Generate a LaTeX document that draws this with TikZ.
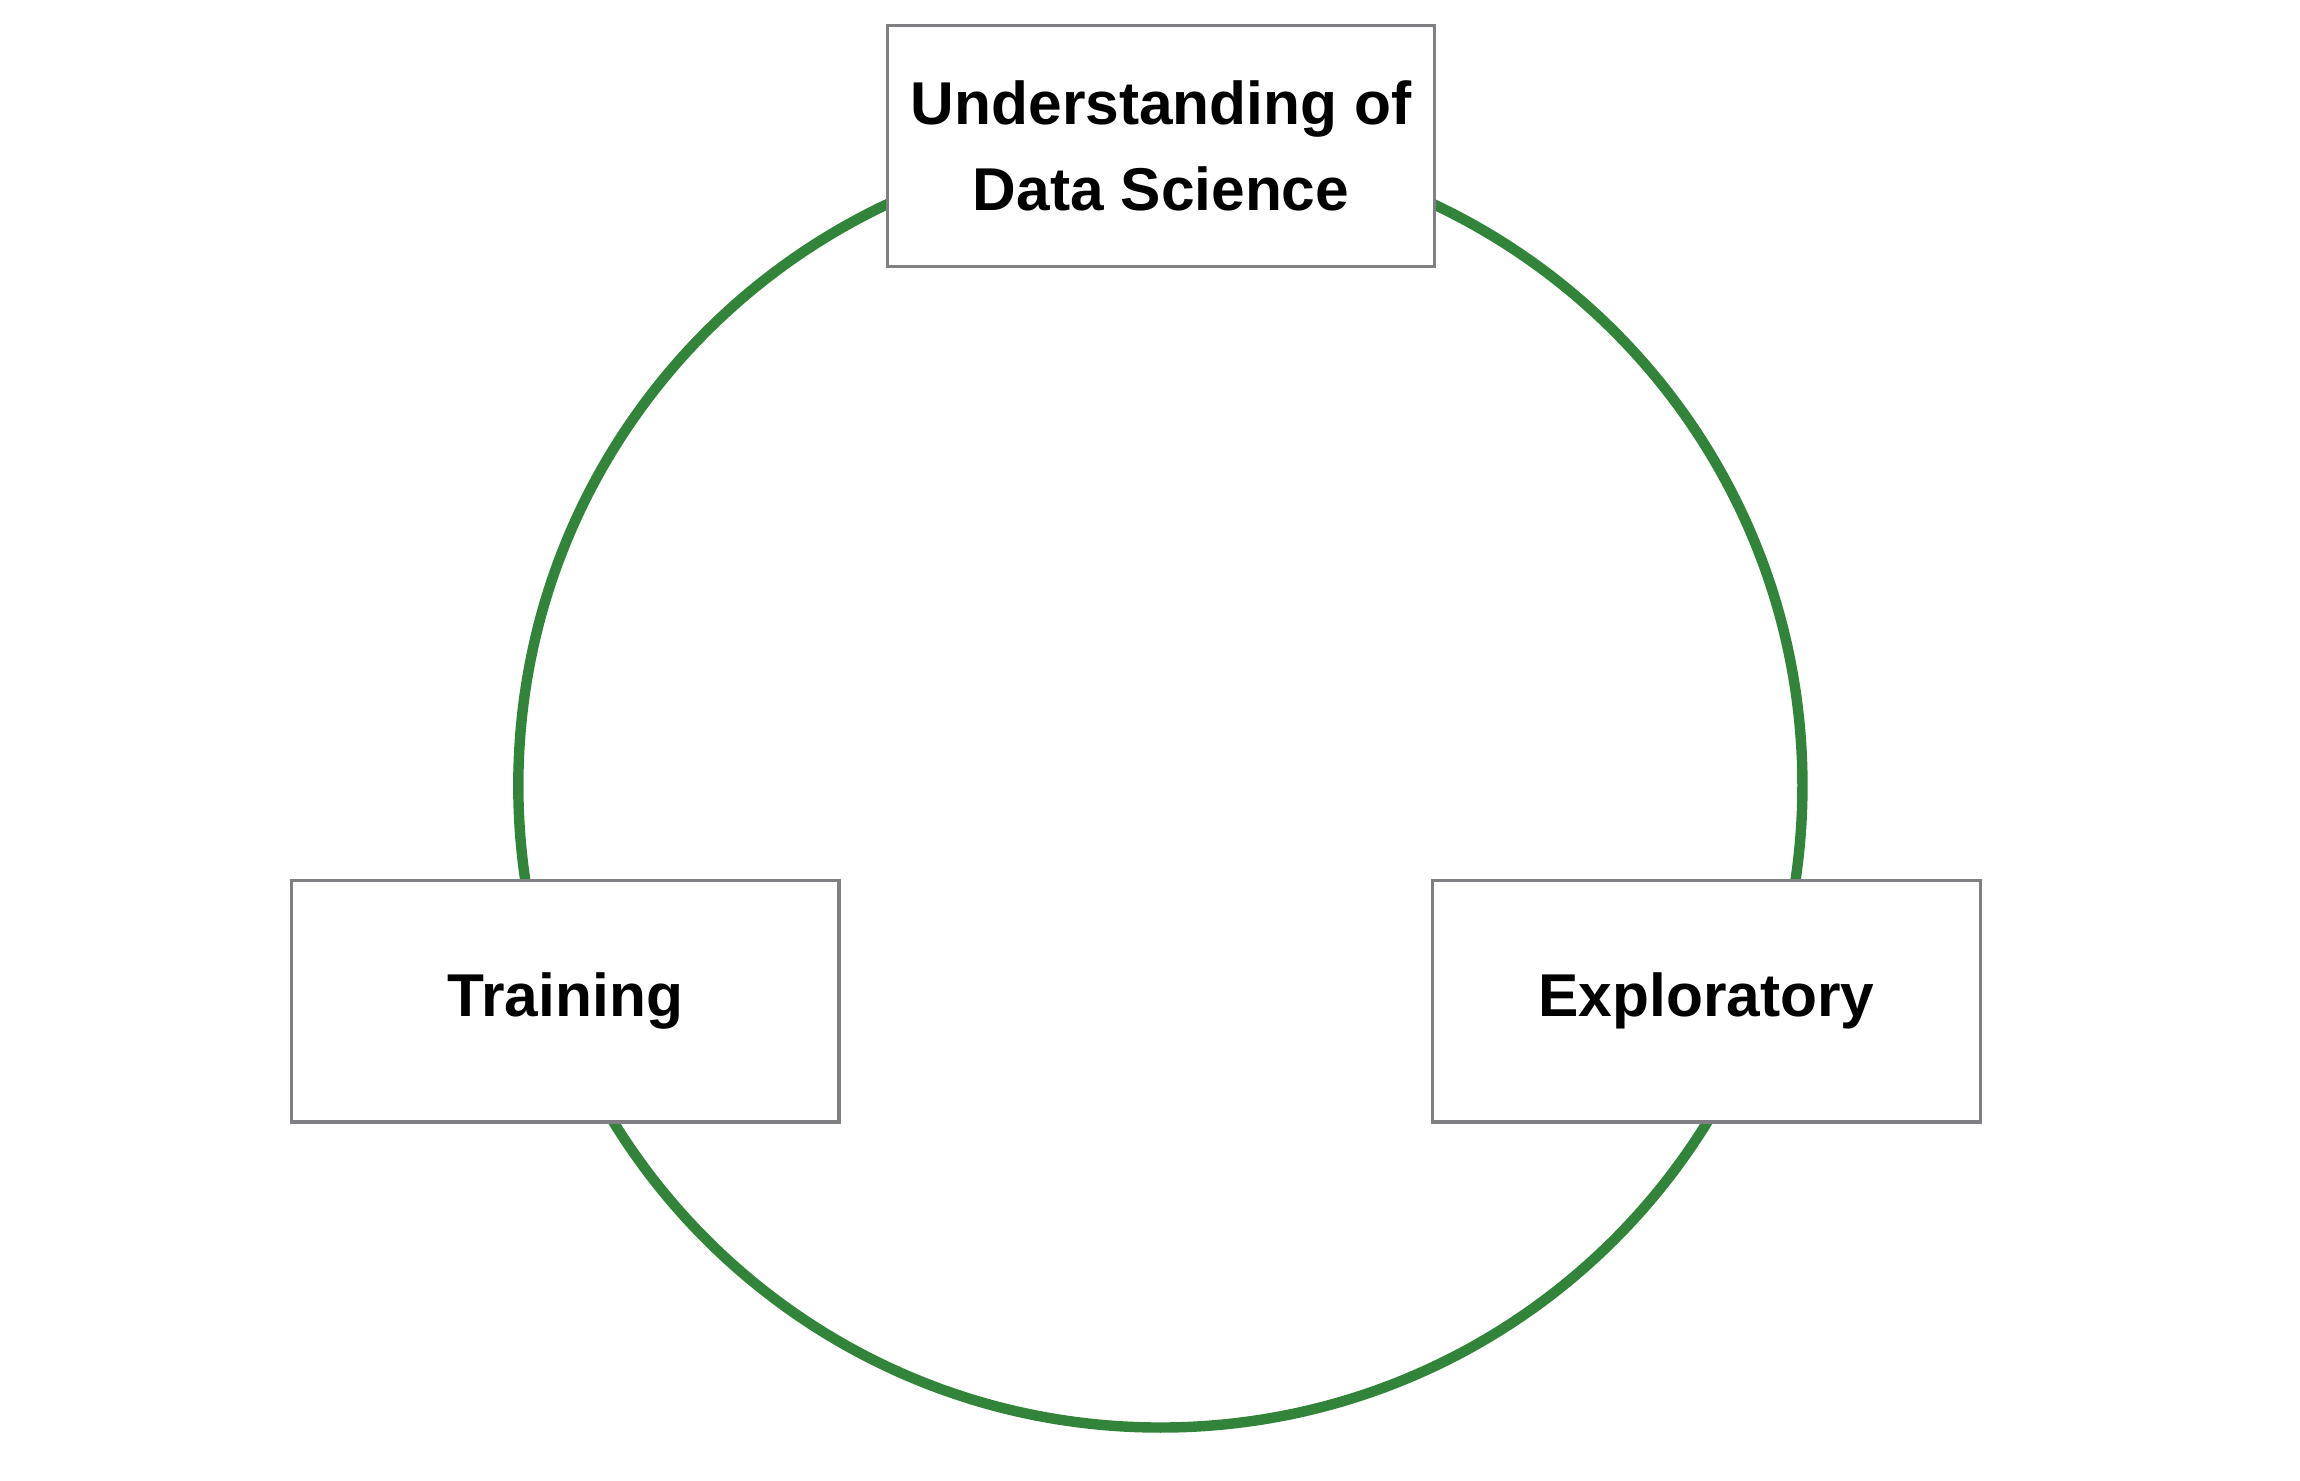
\documentclass[tikz,border=0pt]{standalone}
\usepackage{fontspec}
\setmainfont{Liberation Sans}
\definecolor{cyc}{RGB}{50,132,58}
\definecolor{bd}{RGB}{128,128,132}
\begin{document}
\begin{tikzpicture}[x=0.01cm,y=-0.01cm,
  box/.style={draw=bd,line width=0.6pt,fill=white,minimum width=3.69cm,minimum height=1.63cm,align=center,font=\bfseries\fontsize{11.6}{16.5}\selectfont,inner sep=0pt}]
\useasboundingbox (0,0) rectangle (1552,999);
\coordinate (c) at (783,530);
\draw[cyc,line width=2pt] (c) circle (4.33cm);
\node[box] (u) at (783.5,98.5) {Understanding of\\Data Science};
\node[box] (t) at (381.5,675.5) {Training};
\node[box] (e) at (1151.5,675.5) {Exploratory};
\end{tikzpicture}
\end{document}
